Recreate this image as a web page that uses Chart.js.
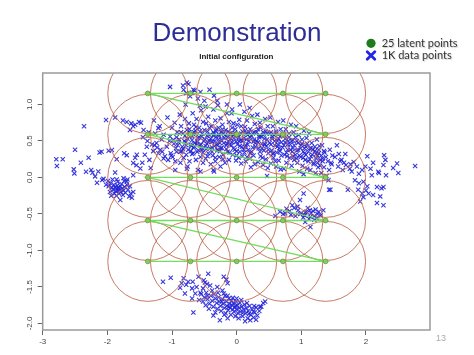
<!DOCTYPE html>
<html><head><meta charset="utf-8">
<script src="https://cdn.jsdelivr.net/npm/chart.js@4.4.1/dist/chart.umd.min.js"></script>
<style>
html,body{margin:0;padding:0;background:#fff;}
#wrap{position:relative;width:474px;height:355px;overflow:hidden;background:#fff;}
canvas{position:absolute;left:0;top:0;}
.t{position:absolute;white-space:nowrap;}
</style></head><body>
<div id="wrap">
<canvas id="c" width="474" height="355" style="width:474px;height:355px"></canvas>
<div class="t" style="left:0;width:474px;top:18.7px;text-align:center;font:26px/26px 'Liberation Sans',Arial,sans-serif;color:#2d2d96;">Demonstration</div>
<svg class="t" style="left:362px;top:36px" width="18" height="26">
 <circle cx="9" cy="7.3" r="4.6" fill="#1e7b1e"/>
 <path d="M5.2,15.7 L12.8,23.3 M12.8,15.7 L5.2,23.3" stroke="#2424e6" stroke-width="2.8" stroke-linecap="round"/>
</svg>
<div class="t" style="left:381.7px;top:36px;font:11px/13px Lato,sans-serif;color:#333;text-shadow:1px 1px 1px rgba(0,0,0,0.2);">25 latent points</div>
<div class="t" style="left:381.7px;top:48.3px;font:11px/13px Lato,sans-serif;color:#333;text-shadow:1px 1px 1px rgba(0,0,0,0.2);">1K data points</div>
<div class="t" style="left:436px;top:332px;font:9px/12px 'Liberation Sans',Arial,sans-serif;color:#aaa;">13</div>
</div>
<script>
const xTicks = [-3, -2, -1, 0, 1, 2];
const yTicks = [-2, -1.5, -1, -0.5, 0, 0.5, 1];
const yTickLabels = ['-2.0', '-1.5', '-1.0', '-0.5', '0.0', '0.5', '1.0'];
const latentCols = [-1.375, -0.715, 0, 0.715, 1.375];
const latentRows = [1.15, 0.59, 0, -0.59, -1.15];

const bandLeft = [
[-1.48,0.75],[-1.44,0.65],[-1.36,0.62],[-1.31,0.45],[-1.39,0.42],[-1.29,0.36],[-1.42,0.31],[-1.35,0.24],[-1.46,0.2],[-1.33,0.13],[-1.38,0.5],[-1.45,0.55],
[-1.21,0.675],[-1.13,0.585],[-1.27,0.44],[-1.21,0.33],[-1.13,0.26],[-1.18,0.38],[-1.24,0.47],[-1.16,0.52],[-1.26,0.6],[-1.19,0.7],[-1.28,0.78],[-1.11,0.29],[-1.23,0.41],[-1.15,0.35],
[-1.03,0.56],[-0.98,0.515],[-1.06,0.24],[-0.95,0.22],[-1.01,0.3],[-0.93,0.35],[-1.08,0.42],[-0.97,0.46],[-1.04,0.5],[-0.92,0.62],[-1.0,0.68],[-0.96,0.75],[-1.07,0.82],[-0.94,0.4],[-1.02,0.33],[-0.99,0.28],[-0.91,0.44],
[-0.95,0.1],[-0.77,0.12],[-0.56,0.08],[-0.36,0.1]
];
const bandMid = [
[-0.88,0.86],[-0.8,0.8],[-0.74,0.74],[-0.86,0.7],[-0.77,0.65],[-0.83,0.6],[-0.72,0.56],[-0.89,0.52],[-0.79,0.48],[-0.71,0.45],[-0.84,0.42],[-0.75,0.38],[-0.87,0.35],[-0.78,0.31],[-0.82,0.27],[-0.73,0.22],[-0.87,0.2],[-0.76,0.15],[-0.81,0.5],[-0.7,0.43],[-0.85,0.36],[-0.74,0.62],[-0.79,1.0],[-0.72,1.11],
[-0.68,0.88],[-0.55,0.92],[-0.62,0.8],[-0.52,0.76],[-0.66,0.72],[-0.58,0.68],[-0.64,0.64],[-0.53,0.6],[-0.69,0.57],[-0.6,0.54],[-0.51,0.5],[-0.65,0.47],[-0.57,0.44],[-0.67,0.41],[-0.54,0.38],[-0.61,0.35],[-0.69,0.32],[-0.56,0.28],[-0.63,0.24],[-0.52,0.2],[-0.6,0.1],[-0.66,0.62],[-0.58,0.55],[-0.62,0.46],[-0.53,0.4],[-0.67,0.33],[-0.57,0.98],
[-0.48,0.97],[-0.36,0.93],[-0.44,0.83],[-0.33,0.78],[-0.47,0.74],[-0.39,0.7],[-0.31,0.66],[-0.45,0.63],[-0.35,0.6],[-0.42,0.58],[-0.32,0.55],[-0.49,0.52],[-0.38,0.49],[-0.46,0.46],[-0.34,0.43],[-0.41,0.4],[-0.3,0.37],[-0.44,0.33],[-0.37,0.3],[-0.48,0.26],[-0.33,0.22],[-0.4,0.18],[-0.36,0.62],[-0.43,0.51],[-0.31,0.45],[-0.47,0.39],[-0.38,0.35],[-0.35,0.08],
[-0.29,0.99],[-0.15,0.88],[-0.25,0.81],[-0.12,0.76],[-0.22,0.72],[-0.28,0.68],[-0.17,0.65],[-0.24,0.62],[-0.11,0.6],[-0.27,0.57],[-0.19,0.54],[-0.13,0.5],[-0.26,0.47],[-0.16,0.44],[-0.23,0.41],[-0.29,0.38],[-0.14,0.35],[-0.21,0.31],[-0.27,0.28],[-0.12,0.24],[-0.18,0.2],[-0.25,0.15],[-0.2,0.6],[-0.28,0.52],[-0.15,0.46],[-0.24,0.4],[-0.11,0.34],[-0.07,0.93],
[-0.08,0.88],[0.04,0.79],[-0.05,0.74],[0.07,0.7],[-0.02,0.66],[0.09,0.63],[-0.09,0.6],[0.02,0.57],[-0.04,0.54],[0.06,0.51],[-0.07,0.48],[0.01,0.45],[0.08,0.42],[-0.03,0.38],[0.05,0.35],[-0.06,0.31],[0.03,0.27],[-0.01,0.23],[0.07,0.19],[-0.05,0.58],[0.04,0.5],[-0.08,0.44],[0.0,0.36],[0.09,0.29]
];
const bandRight = [
[0.12,0.9],[0.24,0.84],[0.16,0.78],[0.28,0.73],[0.13,0.69],[0.21,0.66],[0.27,0.62],[0.15,0.6],[0.23,0.57],[0.11,0.54],[0.19,0.5],[0.29,0.47],[0.14,0.44],[0.25,0.41],[0.18,0.38],[0.12,0.34],[0.26,0.3],[0.2,0.26],[0.14,0.22],[0.28,0.18],[0.22,0.14],[0.17,0.58],[0.26,0.49],[0.13,0.42],[0.21,0.33],
[0.32,0.86],[0.44,0.8],[0.36,0.75],[0.48,0.7],[0.33,0.66],[0.41,0.62],[0.47,0.6],[0.35,0.57],[0.43,0.53],[0.31,0.5],[0.39,0.46],[0.46,0.43],[0.34,0.4],[0.42,0.37],[0.49,0.33],[0.37,0.29],[0.45,0.25],[0.33,0.21],[0.41,0.17],[0.48,0.13],[0.38,0.56],[0.44,0.45],[0.36,0.35],[0.47,0.02],
[0.52,0.82],[0.64,0.76],[0.56,0.7],[0.68,0.66],[0.53,0.62],[0.61,0.6],[0.67,0.56],[0.55,0.53],[0.63,0.5],[0.51,0.47],[0.59,0.44],[0.66,0.4],[0.54,0.37],[0.62,0.34],[0.69,0.3],[0.57,0.27],[0.65,0.23],[0.53,0.19],[0.61,0.15],[0.68,0.11],[0.58,0.58],[0.64,0.45],[0.56,0.32],
[0.72,0.78],[0.84,0.72],[0.76,0.66],[0.88,0.62],[0.73,0.58],[0.81,0.55],[0.87,0.51],[0.75,0.48],[0.83,0.45],[0.71,0.41],[0.79,0.38],[0.86,0.35],[0.74,0.31],[0.82,0.27],[0.89,0.24],[0.77,0.2],[0.85,0.16],[0.73,0.12],[0.8,0.5],[0.87,0.4],[0.78,0.29],
[0.92,0.7],[1.04,0.64],[0.96,0.58],[1.08,0.54],[0.93,0.5],[1.01,0.46],[1.07,0.42],[0.95,0.38],[1.03,0.35],[0.91,0.31],[0.99,0.28],[1.06,0.24],[0.94,0.2],[1.02,0.16],[1.09,0.12],[0.97,0.08],[1.035,0.045],[1.0,0.44],[1.05,0.33],[0.93,0.26],
[1.12,0.6],[1.24,0.52],[1.16,0.47],[1.28,0.43],[1.13,0.4],[1.21,0.36],[1.27,0.33],[1.15,0.29],[1.23,0.26],[1.11,0.22],[1.19,0.18],[1.26,0.14],[1.14,0.1],[1.22,0.06],[1.18,0.38],[1.25,0.3],[1.29,0.24],
[1.32,0.44],[1.44,0.38],[1.36,0.34],[1.48,0.3],[1.33,0.26],[1.41,0.22],[1.47,0.18],[1.35,0.14],[1.43,0.1],[1.31,0.06],[1.39,0.02],[1.42,-0.04],[1.45,-0.17],[1.38,0.28],[1.46,0.2]
];
const bandCore = [
[-0.93,0.55],[-0.9,0.48],[-0.86,0.62],[-0.83,0.39],[-0.8,0.57],[-0.78,0.44],[-0.76,0.53],[-0.73,0.66],[-0.71,0.36],[-0.69,0.51],[-0.67,0.59],[-0.65,0.42],[-0.63,0.69],[-0.61,0.49],[-0.59,0.37],[-0.57,0.63],[-0.55,0.45],
[-0.54,0.56],[-0.52,0.34],[-0.5,0.65],[-0.48,0.43],[-0.46,0.57],[-0.44,0.48],[-0.42,0.68],[-0.4,0.53],[-0.38,0.41],[-0.36,0.57],[-0.34,0.5],[-0.32,0.64],[-0.3,0.44],[-0.28,0.59],[-0.26,0.36],[-0.24,0.52],[-0.22,0.66],[-0.2,0.47],[-0.18,0.58],[-0.16,0.39],[-0.14,0.55],[-0.45,0.29],[-0.33,0.27],[-0.21,0.25],
[-0.13,0.63],[-0.11,0.45],[-0.09,0.53],[-0.07,0.68],[-0.05,0.4],[-0.03,0.61],[-0.01,0.49],[0.01,0.72],[0.03,0.55],[0.05,0.43],[0.07,0.6],[0.09,0.5],[0.11,0.38],[0.13,0.64],[0.15,0.52],[0.17,0.45],[0.19,0.62],[0.21,0.55],[0.23,0.35],[0.25,0.6],[0.27,0.52],[0.29,0.42],[0.0,0.3],[0.16,0.28],
[0.31,0.62],[0.33,0.48],[0.35,0.55],[0.37,0.68],[0.39,0.4],[0.41,0.58],[0.43,0.46],[0.45,0.63],[0.47,0.52],[0.49,0.38],[0.51,0.6],[0.53,0.45],[0.55,0.56],[0.57,0.33],[0.59,0.5],[0.61,0.63],[0.63,0.42],[0.65,0.53],[0.67,0.36],[0.69,0.48],[0.71,0.6],[0.73,0.44],[0.75,0.53],[0.77,0.34],[0.79,0.45],[0.4,0.27],[0.6,0.22],
[0.81,0.6],[0.83,0.38],[0.85,0.5],[0.87,0.29],[0.89,0.44],[0.91,0.55],[0.93,0.37],[0.95,0.47],[0.97,0.3],[0.99,0.4],[1.01,0.52],[1.03,0.27],[1.05,0.4],[1.07,0.31],[1.09,0.46],[1.11,0.35],[1.13,0.25],[1.15,0.4],[1.17,0.31],[1.19,0.2],[1.21,0.42],[1.23,0.32],[1.25,0.2],[1.27,0.38],[1.29,0.16],[1.31,0.3],[1.33,0.22],[1.35,0.36]
];
const upperSparse = [
[-1.03,1.24],[-0.83,1.26],[-0.77,1.3],[-0.745,1.28],[-0.82,1.2],[-0.67,1.2],[-0.69,1.16],[-0.65,1.19],[-0.56,1.17],[-0.42,1.2],[-0.78,1.155],[-0.6,1.08],[-0.5,1.05],[-0.3,1.05],[-0.15,1.0],[-0.35,1.12],[0.05,1.0],[0.2,0.95]
];
const tailLeft = [
[-2.36,0.7],[-2.02,0.785],[-1.88,0.82],[-1.76,0.78],[-1.7,0.76],[-1.63,0.74],[-1.51,0.76],[-1.57,0.72],[-1.65,0.65],[-1.6,0.7],
[-2.5,0.38],[-2.79,0.25],[-2.69,0.25],[-2.78,0.155],[-2.41,0.2],[-2.29,0.27],[-2.12,0.34],[-2.09,0.35],[-1.98,0.365],[-1.93,0.375],
[-2.52,0.11],[-2.51,0.055],[-2.33,0.077],[-2.25,0.1],[-2.23,0.063],[-2.14,0.082],[-2.19,0.014],[-2.08,-0.037],[-1.88,0.068],[-2.16,-0.074],
[-1.74,0.33],[-1.7,0.305],[-1.856,0.25],[-1.57,0.27],[-1.55,0.168],[-1.49,0.123],[-1.6,0.03],[-1.545,0.31],[-1.6,0.196],[-1.855,-0.03],[-1.75,-0.01],[-1.7,-0.055]
];
const clusterLeft = [
[-2.02,-0.1],[-1.98,-0.12],[-1.95,-0.08],[-1.93,-0.14],[-1.91,-0.17],[-1.9,-0.1],[-1.88,-0.13],[-1.87,-0.19],[-1.86,-0.15],[-1.85,-0.11],[-1.84,-0.18],[-1.83,-0.14],[-1.82,-0.22],[-1.81,-0.16],[-1.8,-0.12],[-1.79,-0.2],[-1.78,-0.09],[-1.77,-0.15],[-1.76,-0.24],[-1.75,-0.18],
[-1.73,-0.13],[-1.72,-0.21],[-1.7,-0.1],[-1.68,-0.17],[-1.66,-0.26],[-1.64,-0.22],[-1.62,-0.28],[-1.96,-0.2],[-1.99,-0.05],[-1.89,-0.22],[-1.92,-0.03],[-1.84,-0.06],[-1.74,-0.05],[-1.69,-0.03],[-1.8,-0.31],[-1.86,-0.25],[-2.06,-0.02],[-1.94,-0.25],[-1.6,-0.2],[-1.65,-0.12]
];
const tailRight = [
[1.55,0.44],[1.58,0.32],[1.68,0.32],[1.52,0.28],[1.62,0.24],[1.66,0.2],[1.57,0.15],[1.64,0.1],[1.6,0.22],[1.69,0.17],
[1.81,0.21],[1.86,0.15],[1.75,0.12],[1.94,0.1],[1.78,0.08],[1.89,0.05],[1.83,-0.04],[1.89,-0.08],[1.72,-0.17],[1.76,0.18],
[1.99,0.15],[2.02,0.29],[2.07,0.12],[2.11,0.2],[2.09,0.03],[1.96,-0.06],[2.02,-0.12],[2.04,-0.22],[1.88,-0.17],[1.94,-0.22],[1.96,-0.27],[1.91,-0.33],[2.0,-0.18],
[2.28,0.305],[2.3,0.24],[2.19,0.077],[2.27,0.17],[2.2,0.06],[2.31,0.03],[2.17,-0.13],[2.27,-0.13],[2.24,-0.15],[2.11,-0.24],[2.22,-0.26],[2.17,-0.35],[2.27,-0.38],
[2.48,0.19],[2.42,0.13],[2.5,0.06],[2.76,0.155]
];
const clusterMid = [
[1.035,-0.22],[0.98,-0.31],[0.86,-0.38],[0.77,-0.43],[0.82,-0.46],[0.89,-0.42],[0.94,-0.4],[1.0,-0.49],[1.08,-0.47],[1.13,-0.45],[1.15,-0.49],[1.2,-0.53],[0.72,-0.5],[0.6,-0.53],[0.67,-0.47],[0.75,-0.49],[0.91,-0.53],[0.98,-0.5],
[1.06,-0.48],[1.14,-0.54],[1.24,-0.56],[1.27,-0.47],[1.06,-0.61],[1.14,-0.68],[1.2,-0.58],[1.3,-0.52],[1.1,-0.42],[0.95,-0.45],[1.03,-0.55],[1.25,-0.5],[1.34,-0.45],[1.18,-0.46],[1.05,-0.52],[1.12,-0.57],[0.84,-0.51],[1.22,-0.44],[1.43,-0.17]
];
const clusterBottom = [
[-1.14,-1.43],[-1.02,-1.375],[-0.82,-1.38],[-0.75,-1.43],[-0.68,-1.43],[-0.85,-1.45],[-0.875,-1.51],[-0.8,-1.59],[-0.69,-1.52],[-0.64,-1.59],[-0.56,-1.58],[-0.69,-1.66],[-0.59,-1.36],[-0.51,-1.41],[-0.44,-1.32],[-0.49,-1.44],[-0.46,-1.46],[-0.41,-1.48],[-0.67,-1.85],[-0.78,-1.47],[-0.62,-1.5],[-0.52,-1.52],[-0.2,-1.36],[-0.16,-1.4],[-0.14,-1.45],[-0.22,-1.55],[-0.3,-1.5],[-0.38,-1.55],[-0.45,-1.62],
[-0.55,-1.6],[-0.5,-1.64],[-0.52,-1.7],[-0.47,-1.58],[-0.45,-1.67],[-0.42,-1.73],[-0.4,-1.62],[-0.38,-1.69],[-0.36,-1.77],[-0.35,-1.6],[-0.33,-1.66],[-0.31,-1.72],[-0.3,-1.8],[-0.28,-1.64],[-0.27,-1.7],[-0.25,-1.76],[-0.24,-1.83],[-0.22,-1.67],[-0.21,-1.73],[-0.19,-1.79],
[-0.18,-1.62],[-0.17,-1.86],[-0.16,-1.7],[-0.15,-1.76],[-0.13,-1.82],[-0.12,-1.66],[-0.11,-1.73],[-0.1,-1.79],[-0.09,-1.88],[-0.08,-1.69],[-0.07,-1.75],[-0.06,-1.81],[-0.05,-1.72],[-0.04,-1.84],[-0.03,-1.78],[-0.02,-1.9],[-0.01,-1.7],[0.0,-1.81],[0.01,-1.75],[0.02,-1.86],
[0.04,-1.79],[0.05,-1.72],[0.06,-1.84],[0.08,-1.77],[0.09,-1.9],[0.11,-1.81],[0.12,-1.74],[0.14,-1.86],[0.15,-1.79],[0.17,-1.93],[0.18,-1.83],[0.2,-1.76],[0.22,-1.88],[0.24,-1.81],[0.26,-1.92],[0.28,-1.85],[0.3,-1.78],[0.32,-1.89],[0.35,-1.83],[0.38,-1.77],
[0.41,-1.72],[0.44,-1.7],[0.36,-1.77],[0.26,-1.84],[0.21,-1.955],[-0.36,-1.89],[-0.26,-1.955],[0.03,-1.93],[0.3,-1.95],[0.13,-1.97],[-0.14,-1.93],[-0.29,-1.58],[-0.2,-1.59],[-0.14,-1.62],[-0.06,-1.65],[0.0,-1.66],[0.07,-1.68],[-0.43,-1.8],[-0.48,-1.75],[-0.58,-1.68],
[-0.33,-1.85],[-0.19,-1.88],[-0.23,-1.7],[-0.12,-1.77],[-0.02,-1.76],[0.1,-1.85],[0.19,-1.87],[0.27,-1.76],[0.16,-1.72]
];

const toXY = p => ({ x: p[0], y: p[1] });
const dataPoints = [].concat(bandLeft, bandMid, bandRight, bandCore, upperSparse, tailLeft, clusterLeft, tailRight, clusterMid, clusterBottom).map(toXY);
const latentPoints = [];
latentRows.forEach(r => latentCols.forEach(c => latentPoints.push({ x: c, y: r })));
const latentPath = [];
latentRows.forEach(r => { for (let i = latentCols.length - 1; i >= 0; i--) latentPath.push({ x: latentCols[i], y: r }); });

const boxPlugin = {
  id: 'plotBox',
  afterDatasetsDraw(chart) {
    const { ctx, chartArea: a } = chart;
    ctx.save();
    ctx.strokeStyle = '#9a9a9a';
    ctx.lineWidth = 1.5;
    ctx.strokeRect(a.left, a.top, a.right - a.left, a.bottom - a.top);
    ctx.restore();
  }
};
const yLabelPlugin = {
  id: 'yLabels',
  afterDraw(chart) {
    const { ctx } = chart;
    const ys = chart.scales.y;
    ctx.save();
    ctx.font = "8px 'Liberation Sans', Arial, sans-serif";
    ctx.fillStyle = '#444';
    ctx.textAlign = 'center';
    ctx.textBaseline = 'middle';
    yTicks.forEach((v, i) => {
      const py = ys.getPixelForValue(v);
      ctx.save();
      ctx.translate(30, py);
      ctx.rotate(-Math.PI / 2);
      ctx.fillText(yTickLabels[i], 0, 0);
      ctx.restore();
    });
    ctx.restore();
  }
};

new Chart(document.getElementById('c'), {
  type: 'scatter',
  data: {
    datasets: [
      { label: 'latent', data: latentPath, showLine: true, borderColor: 'rgba(105,220,85,0.95)', borderWidth: 1.3,
        pointRadius: 2.4, pointBackgroundColor: '#8cc860', pointBorderColor: '#5d9a3d', pointBorderWidth: 0.8, order: 1, clip: 0 },
      { label: 'circles', data: latentPoints, showLine: false, pointRadius: 40, pointBackgroundColor: 'rgba(0,0,0,0)',
        pointBorderColor: 'rgba(190,100,75,0.85)', pointBorderWidth: 1, order: 2, clip: 0 },
      { label: 'data', data: dataPoints, showLine: false, pointStyle: 'crossRot', pointRadius: 3,
        pointBorderColor: 'rgba(35,35,215,0.9)', pointBorderWidth: 1.1, order: 3, clip: 0 }
    ]
  },
  options: {
    responsive: false,
    devicePixelRatio: 1,
    animation: false,
    events: [],
    layout: { autoPadding: false, padding: { top: 52, left: 0, right: 44, bottom: 0 } },
    plugins: {
      legend: { display: false },
      tooltip: { enabled: false },
      title: { display: true, text: 'Initial configuration', fullSize: false, color: '#222',
        font: { family: "'Liberation Sans', Arial, sans-serif", size: 8, weight: 'bold' }, padding: { top: 0, bottom: 11.4 } }
    },
    scales: {
      x: {
        type: 'linear', min: -3, max: 2.99,
        afterBuildTicks: s => { s.ticks = xTicks.map(v => ({ value: v })); },
        afterFit: s => { s.height = 25; },
        grid: { drawOnChartArea: false, drawTicks: true, tickLength: 5, color: '#666' },
        border: { display: false },
        ticks: { color: '#444', padding: 2, font: { family: "'Liberation Sans', Arial, sans-serif", size: 8 }, callback: v => String(v) }
      },
      y: {
        type: 'linear', min: -2.09, max: 1.43,
        afterBuildTicks: s => { s.ticks = yTicks.map(v => ({ value: v })); },
        afterFit: s => { s.width = 42.7; },
        grid: { drawOnChartArea: false, drawTicks: true, tickLength: 5, color: '#666' },
        border: { display: false },
        ticks: { display: false }
      }
    }
  },
  plugins: [boxPlugin, yLabelPlugin]
});
</script>
</body></html>
